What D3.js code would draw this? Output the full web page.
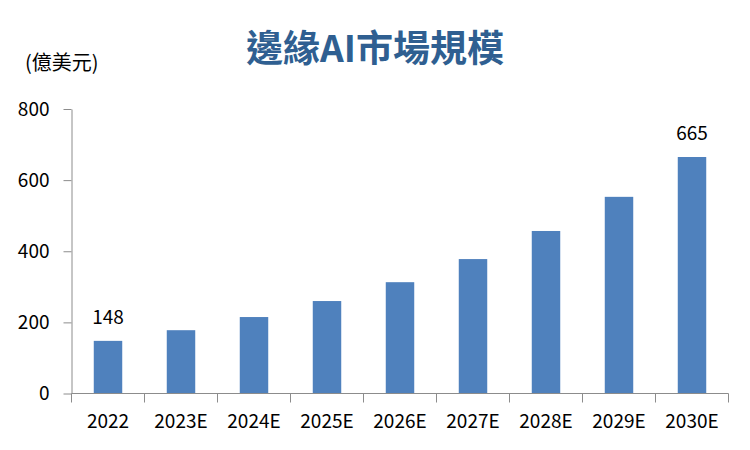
<!DOCTYPE html>
<html>
<head>
    <meta charset="utf-8">
    <script src="https://cdnjs.cloudflare.com/ajax/libs/d3/7.8.5/d3.min.js"></script>
    <title>邊緣AI市場規模</title>
    <style>
    body { margin: 0; background: #fff; }
    text { font-family: "Noto Sans CJK TC", "Noto Sans", sans-serif; }
    .title { font-size: 37px; font-weight: bold; fill: #2f5f91; }
    .unit { font-size: 20px; fill: #000; }
    .axis text { font-size: 19px; fill: #000; }
    .axis path, .axis line { stroke: #8c8c8c; }
    .lbl { font-size: 19px; fill: #000; }
    </style>
</head>
<body>
<div id="container"></div>
<script>
// Data
var years = ["2022", "2023E", "2024E", "2025E", "2026E", "2027E", "2028E", "2029E", "2030E"];
var values = [148, 178, 215, 260, 313, 378, 457, 553, 665];
var yTicks = [0, 200, 400, 600, 800];
var labelled = ["2022", "2030E"]; // only the first and last bars carry a number

var w = 750, h = 450;
var mLeft = 71.5, mRight = 728.5, mTop = 109, mBottom = 393.5;

var svg = d3.select("#container").append("svg")
    .attr("width", w)
    .attr("height", h);

var x = d3.scaleBand().domain(years).range([mLeft, mRight]).paddingInner(0.61).paddingOuter(0.305);
var y = d3.scaleLinear().domain([0, 800]).range([mBottom, mTop]);

svg.append("text").attr("class", "title")
    .attr("x", 375).attr("y", 62)
    .attr("text-anchor", "middle")
    .text("邊緣AI市場規模");

svg.append("text").attr("class", "unit")
    .attr("x", 25).attr("y", 70)
    .text("(億美元)");

// bars
svg.selectAll("rect.bar")
    .data(values)
    .enter()
    .append("rect")
    .attr("class", "bar")
    .attr("x", function(d, i) { return x(years[i]); })
    .attr("y", function(d) { return y(d); })
    .attr("width", x.bandwidth())
    .attr("height", function(d) { return y(0) - y(d); })
    .attr("fill", "#4f81bd");

// y axis
var yAxis = svg.append("g").attr("class", "axis")
    .attr("transform", "translate(" + mLeft + ",0)")
    .call(d3.axisLeft(y).tickValues(yTicks).tickSize(8).tickSizeOuter(0).tickPadding(14));

// x axis with ticks between the categories
var xAxis = svg.append("g").attr("class", "axis")
    .attr("transform", "translate(0," + mBottom + ")")
    .call(d3.axisBottom(x).tickSize(0).tickSizeOuter(0).tickPadding(21));
xAxis.select(".domain").attr("d", "M" + mLeft + ",0H" + mRight);

var step = x.step();
xAxis.selectAll("line.sep")
    .data(d3.range(years.length + 1))
    .enter()
    .append("line")
    .attr("class", "sep")
    .attr("x1", function(i) { return mLeft + i * step; })
    .attr("x2", function(i) { return mLeft + i * step; })
    .attr("y1", 0).attr("y2", 9);

// value labels
svg.selectAll("text.lbl")
    .data(values.filter(function(d, i) { return labelled.indexOf(years[i]) >= 0; }))
    .enter()
    .append("text")
    .attr("class", "lbl")
    .attr("text-anchor", "middle")
    .attr("x", function(d) { return x(years[values.indexOf(d)]) + x.bandwidth() / 2; })
    .attr("y", function(d) { return y(d) - 17; })
    .text(function(d) { return d; });
</script>
</body>
</html>
